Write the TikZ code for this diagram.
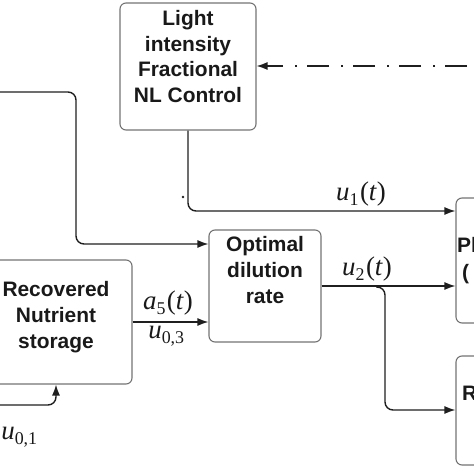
\documentclass[tikz,border=0pt]{standalone}
\usepackage{fontspec}
\setmainfont{Liberation Sans}
\newfontfamily\lserif{Liberation Serif}
\newcommand{\mlb}[3]{{\lserif\fontsize{27}{29}\selectfont\itshape #1\upshape\raisebox{-5bp}{\fontsize{18}{18}\selectfont #2}\kern1.5bp #3}}
\usetikzlibrary{arrows.meta}
\begin{document}
\begin{tikzpicture}[x=1bp,y=-1bp,
  box/.style={draw=black!55, line width=1.1bp, rounded corners=6bp, inner sep=0pt},
  lbl/.style={font=\bfseries\fontsize{21}{26}\selectfont, align=center, inner sep=0pt, text=black!90},
  conn/.style={line width=1.4bp, draw=black!88, rounded corners=8bp},
  tip/.style={-{Latex[length=11bp,width=8bp]}},
  mlab/.style={inner sep=0pt, text=black!90}]
\useasboundingbox (0,0) rectangle (474,474);
\clip (0,0) rectangle (474,474);

% boxes
\node[box, minimum width=136bp, minimum height=127bp] (light) at (188,66.5) {};
\node[lbl] (lighttxt) at (188,56.5) {Light\\intensity\\Fractional\\NL Control};

\node[box, minimum width=112bp, minimum height=112bp] (opt) at (265,286) {};
\node[lbl] (opttxt) at (265,270) {Optimal\\dilution\\rate};

\node[box, minimum width=152bp, minimum height=124bp] (rec) at (56,322) {};
\node[lbl] (rectxt) at (56,317.5) {Recovered\\Nutrient\\storage};

\node[box, minimum width=80bp, minimum height=125bp] (ph) at (496,260.5) {};
\node[lbl, anchor=base west] (phtxta) at (457,252) {Pl};
\node[lbl, anchor=base west] (phtxtb) at (462,279) {(};

\node[box, minimum width=80bp, minimum height=109bp] (rb) at (496,410.5) {};
\node[lbl, anchor=base west] (rbtxt) at (462,400) {R};

% helper coordinates
\coordinate (fbin) at (474,66);
\coordinate (yu1) at (0,211);
\coordinate (lin) at (0,92);
\coordinate (c1) at (76,244);
\coordinate (br0) at (376,287);
\coordinate (br) at (385,287);
\coordinate (yR) at (0,410);
\coordinate (lin2) at (0,405);

% connectors
\draw[conn, tip, rounded corners=0pt, dash pattern=on 22bp off 10bp on 2bp off 12bp, dash phase=39bp]
  (fbin) -- (fbin -| light.east);
\draw[conn, tip] (light.south) |- (ph.west |- yu1);
\fill[black!88] (183,197) circle (1.3bp);
\draw[conn, tip] (lin) -| (c1) -- (c1 -| opt.west);
\draw[conn, tip] (rec.east) -- (rec.east -| opt.west);
\draw[conn, tip] (opt.east) -- (opt.east -| ph.west);
\draw[conn, tip] (br0) -- (br) |- (rb.west |- yR);
\draw[conn, tip] (lin2) -| (rec.south);

% labels
\node[mlab] (lu1) at (361,194) {\mlb{u}{1}{(\textit{t})}};
\node[mlab] (lu2) at (367,269) {\mlb{u}{2}{(\textit{t})}};
\node[mlab] (la5) at (168,303) {\mlb{a}{5}{(\textit{t})}};
\node[mlab] (lu03) at (167,336) {\mlb{u}{0,3}{}};
\node[mlab] (lu01) at (20,437) {\mlb{u}{0,1}{}};
\end{tikzpicture}
\end{document}
